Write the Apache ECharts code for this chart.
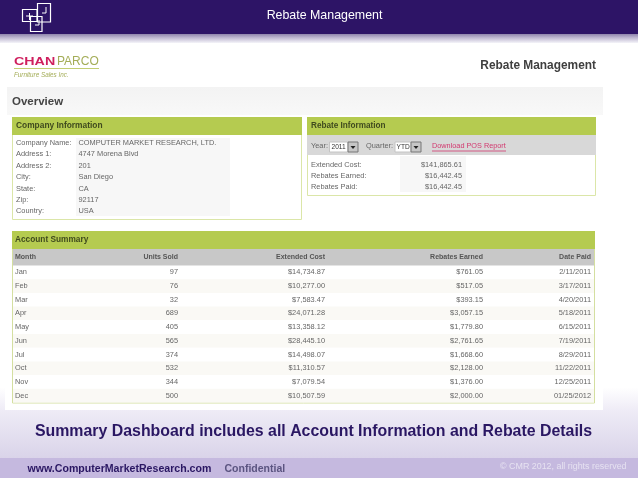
<!DOCTYPE html>
<html>
<head>
<meta charset="utf-8">
<title>Rebate Management</title>
<script src="https://cdn.jsdelivr.net/npm/echarts@6/dist/echarts.min.js"></script>
<style>
html, body { margin: 0; padding: 0; background: #fff; }
#main { width: 638px; height: 478px; }
</style>
</head>
<body>
<div id="main"></div>
<script>
// table data
var months = ['Jan', 'Feb', 'Mar', 'Apr', 'May', 'Jun', 'Jul', 'Oct', 'Nov', 'Dec'];
var unitsSold = ['97', '76', '32', '689', '405', '565', '374', '532', '344', '500'];
var extendedCost = ['$14,734.87', '$10,277.00', '$7,583.47', '$24,071.28', '$13,358.12', '$28,445.10', '$14,498.07', '$11,310.57', '$7,079.54', '$10,507.59'];
var rebatesEarned = ['$761.05', '$517.05', '$393.15', '$3,057.15', '$1,779.80', '$2,761.65', '$1,668.60', '$2,128.00', '$1,376.00', '$2,000.00'];
var datePaid = ['2/11/2011', '3/17/2011', '4/20/2011', '5/18/2011', '6/15/2011', '7/19/2011', '8/29/2011', '11/22/2011', '12/25/2011', '01/25/2012'];
var columnNames = ['Month', 'Units Sold', 'Extended Cost', 'Rebates Earned', 'Date Paid'];

// company / rebate blocks
var companyLabels = ['Company Name:', 'Address 1:', 'Address 2:', 'City:', 'State:', 'Zip:', 'Country:'];
var companyValues = ['COMPUTER MARKET RESEARCH, LTD.', '4747 Morena Blvd', '201', 'San Diego', 'CA', '92117', 'USA'];
var rebateLabels = ['Extended Cost:', 'Rebates Earned:', 'Rebates Paid:'];
var rebateValues = ['$141,865.61', '$16,442.45', '$16,442.45'];

var FONT = '"Liberation Sans", Arial, sans-serif';
var columnX = [15, 178, 325, 483, 591];
var columnAlign = ['left', 'right', 'right', 'right', 'right'];
var columns = [months, unitsSold, extendedCost, rebatesEarned, datePaid];

function box(x, y, w, h, fill, stroke) {
    return {
        type: 'rect', silent: true,
        shape: { x: x, y: y, width: w, height: h },
        style: { fill: fill, stroke: stroke || null, lineWidth: stroke ? 1 : 0 }
    };
}
function label(x, y, text, size, color, weight, align) {
    return {
        type: 'text', silent: true, x: x, y: y,
        style: {
            text: text, fill: color, align: align || 'left', verticalAlign: 'middle',
            font: (weight || 'normal') + ' ' + size + 'px ' + FONT
        }
    };
}
function line(x1, y1, x2, y2, color, width) {
    return {
        type: 'line', silent: true,
        shape: { x1: x1, y1: y1, x2: x2, y2: y2 },
        style: { stroke: color, lineWidth: width || 1 }
    };
}
function vertical(stops) {
    return { type: 'linear', x: 0, y: 0, x2: 0, y2: 1, colorStops: stops };
}

var GREEN = '#b5cb50', BORDER = '#dbe6a8', TEXT = '#666666', HEAD = '#3f4a1e', SMALL = 7.4;
var shapes = [];

// slide background
shapes.push(box(0, 0, 638, 478, vertical([
    { offset: 0, color: '#ffffff' }, { offset: 0.81, color: '#ffffff' },
    { offset: 0.86, color: '#eeebf6' }, { offset: 0.96, color: '#d9d3e9' }, { offset: 1, color: '#d9d3e9' }
])));
shapes.push(box(0, 34, 638, 9, vertical([
    { offset: 0, color: '#8f84ac' }, { offset: 0.4, color: '#bdb6d0' }, { offset: 1, color: '#f5f4f9' }
])));
shapes.push(box(0, 0, 638, 34, '#2d1466'));
shapes.push(box(0, 458, 638, 20, '#c5b9df'));

// screenshot panel
shapes.push(box(5, 43, 598, 367, '#ffffff'));
shapes.push(box(7, 87, 596, 28, vertical([
    { offset: 0, color: '#f3f3f3' }, { offset: 1, color: '#f8f8f8' }
])));

// banner logo
var logo = [[22.5, 9.5, 14.5, 12], [37.5, 3.5, 13, 18.5], [30.5, 16.5, 11.5, 15]];
logo.forEach(function (s) {
    shapes.push({
        type: 'rect', silent: true,
        shape: { x: s[0], y: s[1], width: s[2], height: s[3] },
        style: { fill: 'none', stroke: '#ffffff', lineWidth: 1.2 }
    });
});
shapes.push(line(29.5, 13, 29.5, 20, '#ffffff'), line(26, 16, 33, 16, '#ffffff'));
shapes.push(line(46, 7, 46, 13, '#ffffff'), line(42, 13, 46, 13, '#ffffff'));
shapes.push(line(39, 20, 39, 25, '#ffffff'), line(35, 25, 39, 25, '#ffffff'));

// headings
shapes.push(label(324.5, 16, 'Rebate Management', 12.4, '#ffffff', 'normal', 'center'));
shapes.push({
    type: 'text', silent: true, x: 14, y: 61.5, scaleX: 1.24,
    style: { text: 'CHAN', fill: '#cf1f5e', verticalAlign: 'middle', font: 'bold 11.5px ' + FONT }
});
shapes.push(label(57, 61.5, 'PARCO', 12, '#a4ad58'));
shapes.push(line(14, 68.5, 99, 68.5, '#c2cd72'));
shapes.push({
    type: 'text', silent: true, x: 14, y: 75,
    style: { text: 'Furniture Sales Inc.', fill: '#a4ad58', verticalAlign: 'middle', font: 'italic 6.3px ' + FONT }
});
shapes.push(label(596, 66, 'Rebate Management', 11.9, '#3f3f3f', 'bold', 'right'));
shapes.push(label(12, 102, 'Overview', 11.5, '#444444', 'bold'));

// company information
shapes.push(box(12.5, 117.5, 289, 102, '#ffffff', BORDER));
shapes.push(box(12, 117, 290, 18, GREEN));
shapes.push(label(16, 126, 'Company Information', 8.4, HEAD, 'bold'));
shapes.push(box(76, 138, 154, 78, '#f7f7f7'));
companyLabels.forEach(function (t, i) {
    shapes.push(label(16, 143 + i * 11.4, t, SMALL, TEXT));
    shapes.push(label(78.5, 143 + i * 11.4, companyValues[i], SMALL, TEXT));
});

// rebate information
shapes.push(box(307.5, 117.5, 288, 78, '#ffffff', BORDER));
shapes.push(box(307, 117, 289, 18, GREEN));
shapes.push(label(311, 126, 'Rebate Information', 8.2, HEAD, 'bold'));
shapes.push(box(307, 135, 289, 20, '#d8d8d8'));
shapes.push(label(311, 146, 'Year:', SMALL, TEXT));
shapes.push(box(329.5, 142, 18.5, 10, '#ffffff', '#c4c4c4'));
shapes.push(label(331.5, 147.5, '2011', 6.6, '#333333'));
shapes.push(box(348, 142, 10, 10, '#c6c6c6', '#777777'));
shapes.push(label(366, 146, 'Quarter:', SMALL, TEXT));
shapes.push(box(395, 142, 16, 10, '#ffffff', '#c4c4c4'));
shapes.push(label(396.5, 147.5, 'YTD', 6.6, '#333333'));
shapes.push(box(411, 142, 10, 10, '#c6c6c6', '#777777'));
[353, 416].forEach(function (x) {
    shapes.push({
        type: 'polygon', silent: true,
        shape: { points: [[x - 2.5, 146], [x + 2.5, 146], [x, 149]] },
        style: { fill: '#222222' }
    });
});
shapes.push(label(432, 146, 'Download POS Report', 7.3, '#d2386f'));
shapes.push(line(432, 151, 506, 151, '#d2386f', 0.8));
shapes.push(box(400, 156, 66, 36, '#f7f7f7'));
rebateLabels.forEach(function (t, i) {
    shapes.push(label(311, 165 + i * 11, t, SMALL, TEXT));
    shapes.push(label(462, 165 + i * 11, rebateValues[i], SMALL, TEXT, 'normal', 'right'));
});

// account summary frame
shapes.push(box(12.5, 231.5, 582, 171.5, '#ffffff', '#d4dfa0'));
shapes.push(box(12, 231, 583, 18, GREEN));
shapes.push(label(15, 240, 'Account Summary', 8.3, HEAD, 'bold'));
shapes.push(box(13, 249, 581, 17, '#c8c8c8'));
columnNames.forEach(function (t, i) {
    shapes.push(label(columnX[i], 257.5, t, 7, '#555555', 'bold', columnAlign[i]));
});

// footer
shapes.push(label(313.5, 432, 'Summary Dashboard includes all Account Information and Rebate Details', 15.9, '#2a1763', 'bold', 'center'));
shapes.push(label(27.5, 469, 'www.ComputerMarketResearch.com', 10.6, '#2a1763', 'bold'));
shapes.push(label(224.5, 469.5, 'Confidential', 10.5, '#5b5480', 'bold'));
shapes.push(label(626.5, 467, '\u00a9 CMR 2012, all rights reserved', 8.9, '#e6e2f1', 'normal', 'right'));

var myChart = echarts.init(document.getElementById('main'));

// one row of the summary table, placed by the category axis
function renderRow(params, api) {
    var row = api.value(0);
    var pos = api.coord([0, row]);
    var h = api.size([0, 1])[1];
    var kids = [{
        type: 'rect',
        shape: { x: 13, y: pos[1] - h / 2, width: 581, height: h },
        style: { fill: row % 2 ? '#faf9f5' : '#ffffff' }
    }];
    columns.forEach(function (col, i) {
        kids.push({
            type: 'text', x: columnX[i], y: pos[1],
            style: {
                text: col[row], fill: TEXT, align: columnAlign[i], verticalAlign: 'middle',
                font: 'normal ' + SMALL + 'px ' + FONT
            }
        });
    });
    return { type: 'group', children: kids };
}

myChart.setOption({
    animation: false,
    graphic: { elements: shapes },
    grid: { left: 0, width: 638, top: 265.5, height: 137 },
    xAxis: { type: 'value', min: 0, max: 638, show: false },
    yAxis: { type: 'category', data: months, inverse: true, show: false },
    series: [{
        type: 'custom',
        renderItem: renderRow,
        data: months.map(function (m, i) { return [i, m]; }),
        encode: { y: 1 },
        silent: true
    }]
});
</script>
</body>
</html>
